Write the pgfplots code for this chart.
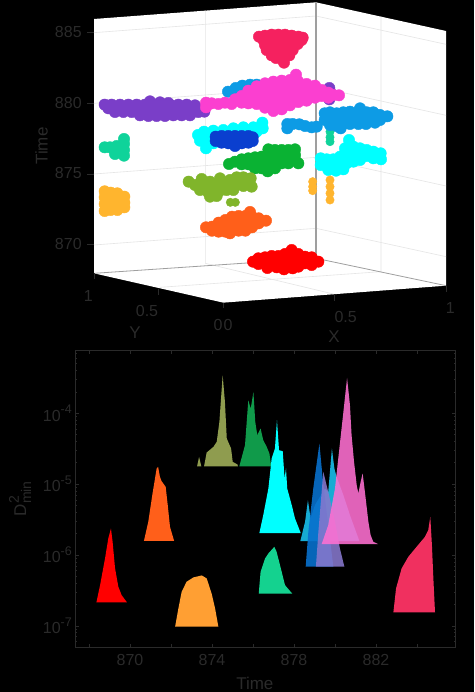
\documentclass[border=0pt]{standalone}
\usepackage{fontspec}
\setmainfont{Liberation Sans}
\usepackage{pgfplots}
\pgfplotsset{compat=1.18}
\definecolor{txt}{HTML}{2A2A2A}
\definecolor{cCrim}{HTML}{F5215F}
\definecolor{cPurp}{HTML}{7A3EC8}
\definecolor{cMag}{HTML}{FB3FD0}
\definecolor{cBlue}{HTML}{0D9BE5}
\definecolor{cDark}{HTML}{0A3FCF}
\definecolor{cGreen}{HTML}{0AB233}
\definecolor{cTeal}{HTML}{0FD39A}
\definecolor{cAmb}{HTML}{FFB52E}
\definecolor{cOli}{HTML}{80B52B}
\definecolor{cOra}{HTML}{FF5F1A}
\definecolor{cCy}{HTML}{00FFFF}
\definecolor{cApr}{HTML}{FF9F33}
\definecolor{cRed}{HTML}{FF0000}
\pgfplotsset{blob/.style={only marks,mark=*,mark size=5.7pt,color=#1,mark options={draw=none,fill=#1}},
 stick/.style={only marks,mark=*,mark size=4.2pt,color=#1,mark options={draw=none,fill=#1}}}
\newcommand\lab{\fontsize{16}{18}\selectfont}
\newcommand\labb{\fontsize{17}{19}\selectfont}
\begin{document}
\begin{tikzpicture}[x=1pt,y=1pt]
\useasboundingbox (0,0) rectangle (474,692);
\fill[black] (0,0) rectangle (474,692);
%% ---------- top panel: the 3-D view, in projected coordinates
\begin{axis}[at={(0pt,347pt)},anchor=south west,width=474pt,height=345pt,scale only axis,
  xmin=0,xmax=1422,ymin=0,ymax=1035,y dir=reverse,hide axis,clip=false]
\addplot[fill=white,draw=none] coordinates {(282,57)(948,7)(1338,93)(1338,857)(670,908)(282,820)} -- cycle;
% grid
\addplot[draw=gray!20,line width=.6pt] coordinates {(282,98)(948,48)(1338,133)};
\addplot[draw=gray!20,line width=.6pt] coordinates {(282,310)(948,260)(1338,346)};
\addplot[draw=gray!20,line width=.6pt] coordinates {(282,522)(948,472)(1338,558)};
\addplot[draw=gray!20,line width=.6pt] coordinates {(282,735)(948,685)(1338,770)};
\addplot[draw=gray!20,line width=.6pt] coordinates {(616,32)(616,790)(1000,882)};
\addplot[draw=gray!20,line width=.6pt] coordinates {(1143,50)(1143,815)(480,862)};
% box
\addplot[draw=gray!75,line width=1.3pt] coordinates {(948,7)(948,775)};
\addplot[draw=gray!75,line width=.8pt] coordinates {(282,820)(948,775)(1338,857)};
% ticks
\addplot[draw=txt,line width=.6pt] coordinates {(262,97)(282,97)};
\addplot[draw=txt,line width=.6pt] coordinates {(262,309)(282,309)};
\addplot[draw=txt,line width=.6pt] coordinates {(262,522)(282,522)};
\addplot[draw=txt,line width=.6pt] coordinates {(262,734)(282,734)};
\addplot[draw=txt,line width=.6pt] coordinates {(282,820)(282,838)};
\addplot[draw=txt,line width=.6pt] coordinates {(476,868)(476,884)};
\addplot[draw=txt,line width=.6pt] coordinates {(670,908)(670,925)};
\addplot[draw=txt,line width=.6pt] coordinates {(1003,885)(1003,902)};
\addplot[draw=txt,line width=.6pt] coordinates {(1338,857)(1338,875)};
% blobs at the back
\addplot[blob=cBlue] coordinates {(684,275)(707,264)(727,257)(750,254)(770,254)(700,277)(730,272)(760,272)};
\addplot[blob=cPurp] coordinates {(988,264)(975,277)(993,280)(988,298)};
\addplot[blob=cPurp] coordinates {
(314,314)(335,314)(360,314)(385,314)(410,314)(435,314)(460,314)(485,314)(510,314)(535,314)(560,314)(585,316)
(325,325)(350,325)(375,325)(400,325)(425,325)(450,325)(475,325)(500,325)(525,325)(550,325)(575,325)(600,328)
(345,336)(370,336)(395,336)(420,336)(445,336)(470,336)(495,336)(520,336)(545,336)(570,336)(595,336)(613,335)
(420,346)(445,348)(470,348)(495,348)(520,346)(545,346)(570,346)
(450,304)(480,307)(505,309)};
\addplot[blob=cCrim] coordinates {
(777,110)(795,107)(815,104)(835,104)(855,104)(875,107)(895,110)(908,113)
(790,120)(810,120)(830,120)(850,120)(870,120)(890,120)(905,120)
(795,135)(815,135)(835,135)(855,135)(875,135)(893,132)
(800,150)(820,150)(840,150)(860,150)(878,150)
(815,166)(835,166)(855,166)(868,166)
(828,174)(852,188)(845,176)};
\addplot[blob=cMag] coordinates {
(618,308)(618,322)(635,310)(655,312)(675,308)(695,312)(705,298)(725,288)(725,308)
(745,272)(745,290)(745,310)(770,259)(770,277)(770,297)(770,312)
(795,250)(795,268)(795,288)(795,308)(795,323)
(820,245)(820,263)(820,283)(820,303)(820,323)(820,333)
(845,242)(845,260)(845,280)(845,300)(845,320)(845,328)
(870,240)(870,258)(870,278)(870,298)(870,316)
(888,224)(895,245)(895,265)(895,285)(895,306)
(920,252)(920,270)(920,290)(920,302)
(945,257)(945,275)(945,293)(965,270)(965,288)(985,278)(985,293)(1000,285)(1017,286)};
\addplot[stick=cTeal] coordinates {(990,395)(990,412)(990,425)};
\addplot[blob=cBlue] coordinates {
(862,385)(862,372)(878,372)(898,373)(915,378)(935,382)(950,380)
(974,340)(974,360)(990,337)(990,355)(990,375)(1010,340)(1010,360)(1010,378)(1030,337)(1030,355)(1030,372)(1022,385)(1050,335)(1050,350)(1050,372)
(1075,335)(1080,325)(1075,350)(1075,372)(1100,337)(1100,352)(1098,372)(1120,337)(1120,355)(1125,368)(1140,345)(1140,360)(1162,349)};
\addplot[blob=cCy] coordinates {
(594,405)(600,422)(612,395)(618,445)(617,425)(640,392)(640,430)(670,390)(700,385)(730,382)(760,382)(787,368)(788,385)(770,395)(740,395)(710,395)(670,405)(630,410)};
\addplot[blob=cDark] coordinates {
(647,410)(647,423)(665,408)(665,428)(685,408)(685,430)(705,408)(705,438)(705,428)(725,408)(725,430)(745,408)(745,428)(758,412)(758,423)};
\addplot[blob=cGreen] coordinates {
(687,492)(705,485)(725,478)(725,493)(745,475)(745,493)(765,472)(765,490)(765,505)(785,470)(785,488)(785,505)(805,448)(805,468)(805,488)(805,505)(803,514)
(825,450)(825,470)(825,490)(825,505)(845,450)(845,470)(845,490)(865,450)(865,468)(865,490)(885,448)(885,465)(885,480)(895,490)};
\addplot[blob=cCy] coordinates {
(962,475)(962,495)(980,478)(980,498)(985,510)(1000,478)(1000,498)(1008,512)(1020,470)(1020,490)(1030,508)(1035,445)(1040,470)(1040,490)(1047,420)(1048,435)
(1060,440)(1060,465)(1060,485)(1080,445)(1080,465)(1080,480)(1100,450)(1100,468)(1120,455)(1120,475)(1142,460)(1143,478)};
\addplot[stick=cAmb] coordinates {(938,545)(938,560)(938,572)(990,540)(990,560)(990,580)(990,600)};
\addplot[blob=cAmb] coordinates {
(314,574)(314,592)(314,612)(314,633)(332,578)(332,598)(332,618)(332,630)(352,580)(352,598)(352,618)(352,630)(373,590)(373,608)(373,622)};
\addplot[blob=cTeal] coordinates {(314,442)(330,442)(350,438)(372,417)(372,432)(372,450)(372,467)(345,462)(360,450)};
\addplot[blob=cOli] coordinates {
(566,545)(585,555)(605,537)(605,553)(618,565)(630,545)(630,565)(625,578)(650,588)(630,590)(660,552)(645,572)(660,572)(680,552)(690,560)(710,532)(710,555)(730,532)(730,558)(752,535)(755,560)(645,560)(700,570)(680,570)(720,545)(690,540)(660,535)(600,570)};
\addplot[stick=cOli] coordinates {(691,607)(706,607)};
\addplot[blob=cOra] coordinates {
(618,682)(636,680)(636,692)(656,668)(656,685)(656,695)(676,660)(676,680)(676,695)(690,700)(696,650)(696,665)(696,685)(716,648)(716,665)(716,682)(716,692)(736,648)(736,665)(736,682)(736,692)(750,636)(756,650)(756,670)(776,655)(776,670)(798,662)(756,682)};
\addplot[blob=cRed] coordinates {
(759,785)(775,775)(775,792)(795,772)(795,790)(802,804)(815,768)(815,788)(830,802)(835,768)(835,785)(852,808)(855,762)(855,780)(855,795)(875,750)(875,765)(875,785)(878,805)(895,762)(895,782)(895,800)(915,770)(915,790)(935,772)(935,795)(955,785)};
% labels
\node[font=\lab,text=txt] at (axis cs:205,97) {885};
\node[font=\lab,text=txt] at (axis cs:205,308) {880};
\node[font=\lab,text=txt] at (axis cs:205,520) {875};
\node[font=\lab,text=txt] at (axis cs:205,732) {870};
\node[font=\lab,text=txt] at (axis cs:265,888) {1};
\node[font=\lab,text=txt] at (axis cs:441,932) {0.5};
\node[font=\lab,text=txt] at (axis cs:654,975) {0};
\node[font=\lab,text=txt] at (axis cs:684,975) {0};
\node[font=\lab,text=txt] at (axis cs:1037,950) {0.5};
\node[font=\lab,text=txt] at (axis cs:1351,925) {1};
\node[font=\labb,text=txt] at (axis cs:405,998) {Y};
\node[font=\labb,text=txt] at (axis cs:1002,1010) {X};
\node[font=\labb,text=txt,rotate=90] at (axis cs:125,438) {Time};
\end{axis}
%% ---------- bottom panel
\begin{axis}[at={(75.3pt,44.3pt)},anchor=south west,width=380.4pt,height=297.7pt,scale only axis,
  xmin=867.33,xmax=885.89,ymode=log,ymin=4.9e-8,ymax=7.8e-4,
  axis line style={draw=txt,line width=.5pt},
  tick style={draw=txt,line width=.5pt},
  major tick length=4pt,minor tick length=2pt,
  xtick={868,870,...,884},xticklabels={,870,,874,,878,,882,},
  tick label style={font=\lab,text=txt},
  log number format basis/.code 2 args={10\raisebox{.45em}{\fontsize{12.5}{12.5}\selectfont\pgfmathparse{int(#2)}\pgfmathresult}},
  xlabel={Time},ylabel={D\rlap{\raisebox{.42em}{\fontsize{14}{14}\selectfont 2}}\raisebox{-.3em}{\fontsize{14}{14}\selectfont min}},
  label style={font=\labb,text=txt},
  xlabel style={at={(axis description cs:0.472,-0.12)},anchor=center},
  ylabel style={at={(axis description cs:-0.145,0.50)},anchor=center},
  xticklabel style={yshift=-3pt},
  clip=true]
\addplot[fill=cRed,draw=none] coordinates {(868.36,2.14e-7)(868.54,3.75e-7)(868.78,8.9e-7)(868.94,1.71e-6)(869.07,2.36e-6)(869.15,1.53e-6)(869.27,6.45e-7)(869.43,3.55e-7)(869.59,2.71e-7)(869.85,2.14e-7)} -- cycle;
\addplot[fill=cOra,draw=none] coordinates {(870.68,1.58e-6)(870.89,2.93e-6)(871.11,7.76e-6)(871.30,1.66e-5)(871.37,1.75e-5)(871.46,1.26e-5)(871.54,1.10e-5)(871.74,9.14e-6)(871.84,5.04e-6)(871.95,2.49e-6)(872.15,1.58e-6)} -- cycle;
\addplot[fill=cApr,draw=none] coordinates {(872.2,0.97e-7)(872.36,1.76e-7)(872.52,3.02e-7)(872.76,4.18e-7)(873.09,4.81e-7)(873.50,5.13e-7)(873.74,4.66e-7)(873.98,2.86e-7)(874.15,1.76e-7)(874.31,0.97e-7)} -- cycle;
\addplot[fill={rgb,255:red,143;green,156;blue,79},draw=none] coordinates {(873.27,1.77e-5)(873.37,2.42e-5)(873.48,1.77e-5)} -- cycle;
\addplot[fill={rgb,255:red,143;green,156;blue,79},draw=none] coordinates {(873.61,1.77e-5)(873.74,2.79e-5)(874.07,3.35e-5)(874.23,3.94e-5)(874.36,7.55e-5)(874.52,3.43e-4)(874.63,1.45e-4)(874.72,4.39e-5)(874.93,3.18e-5)(875.01,2.06e-5)(875.24,1.89e-5)(875.27,1.77e-5)} -- cycle;
\addplot[fill={rgb,255:red,16;green,154;blue,74},draw=none] coordinates {(875.33,1.77e-5)(875.61,3.54e-5)(875.77,1.52e-4)(875.89,1.16e-4)(876.02,2.0e-4)(876.11,7.55e-5)(876.21,4.9e-5)(876.37,6.08e-5)(876.50,4.16e-5)(876.67,3.35e-5)(876.80,2.70e-5)(876.89,1.77e-5)} -- cycle;
\addplot[fill=cCy,draw=none] coordinates {(876.31,2.03e-6)(876.50,3.64e-6)(876.75,8.65e-6)(876.91,2.30e-5)(877.07,3.18e-5)(877.17,7.96e-5)(877.27,3.0e-5)(877.45,2.91e-5)(877.54,1.2e-5)(877.61,1.66e-5)(877.67,8.65e-6)(877.89,5.04e-6)(878.05,3.27e-6)(878.33,2.03e-6)} -- cycle;
\addplot[fill={rgb,255:red,20;green,210;blue,143},draw=none] coordinates {(876.28,2.83e-7)(876.37,5.78e-7)(876.59,8.91e-7)(876.75,1.05e-6)(877.04,1.30e-6)(877.15,1.11e-6)(877.40,5.78e-7)(877.56,3.75e-7)(877.92,2.83e-7)} -- cycle;
\addplot[fill={rgb,255:red,240;green,48;blue,95},draw=none] coordinates {(882.85,1.55e-7)(882.98,3.37e-7)(883.25,6.44e-7)(883.58,9.42e-7)(883.98,1.30e-6)(884.39,1.80e-6)(884.55,2.24e-6)(884.65,3.45e-6)(884.73,1.37e-6)(884.80,4.66e-7)(884.88,1.55e-7)} -- cycle;
% overlapping group
\addplot[fill={rgb,255:red,25;green,190;blue,235},draw=none,fill opacity=.9] coordinates {(878.31,1.57e-6)(878.54,2.93e-6)(878.68,5.93e-6)(878.81,3.27e-6)(879.02,5.04e-6)(879.51,8.65e-6)(879.67,7.76e-6)(879.85,3.18e-5)(879.97,1.66e-5)(880.08,1.26e-5)(880.41,6.97e-6)(880.73,3.64e-6)(881.19,1.57e-6)} -- cycle;
\addplot[fill={rgb,255:red,8;green,112;blue,205},draw=none,fill opacity=.9] coordinates {(878.57,6.81e-7)(878.70,2.12e-6)(878.94,8.65e-6)(879.24,3.73e-5)(879.40,1.2e-5)(879.59,4.06e-6)(879.92,6.81e-7)} -- cycle;
\addplot[fill={rgb,255:red,135;green,120;blue,205},draw=none,fill opacity=.88] coordinates {(879.07,6.81e-7)(879.19,2.12e-6)(879.43,1.49e-5)(879.67,7.76e-6)(880.0,2.93e-6)(880.24,1.23e-6)(880.46,6.81e-7)} -- cycle;
\addplot[fill={rgb,255:red,255;green,112;blue,210},draw=none,fill opacity=.88] coordinates {(879.35,1.42e-6)(879.67,2.63e-6)(880.0,8.65e-6)(880.16,2.30e-5)(880.41,1.04e-4)(880.59,3.15e-4)(880.73,1.30e-4)(880.81,4.9e-5)(880.93,2.06e-5)(881.06,9.64e-6)(881.14,7.36e-6)(881.25,1.07e-5)(881.35,1.41e-5)(881.46,7.76e-6)(881.63,2.93e-6)(881.74,1.90e-6)(881.87,1.53e-6)(882.11,1.42e-6)} -- cycle;
\end{axis}
\end{tikzpicture}
\end{document}
